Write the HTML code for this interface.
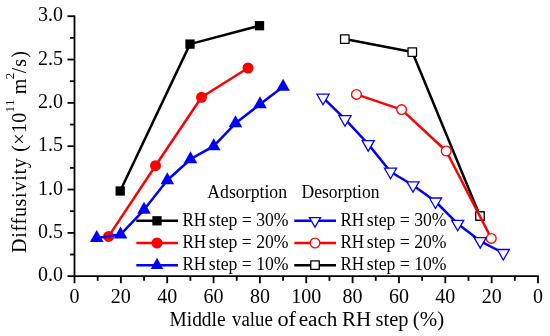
<!DOCTYPE html>
<html><head><meta charset="utf-8"><style>
html,body{margin:0;padding:0;background:#fff;width:550px;height:336px;overflow:hidden}
svg{display:block}
text{font-family:"Liberation Serif","Times New Roman",serif;fill:#000}
</style></head><body>
<svg width="550" height="336" viewBox="0 0 550 336">
<rect width="550" height="336" fill="#fff"/>
<line x1="74.5" y1="15.399999999999999" x2="74.5" y2="283.2" stroke="#000" stroke-width="1.8"/>
<line x1="67.5" y1="276.2" x2="538.8" y2="276.2" stroke="#000" stroke-width="1.8"/>
<text x="63" y="281.20" text-anchor="end" font-size="20">0.0</text>
<line x1="69.9" y1="254.53" x2="74.5" y2="254.53" stroke="#000" stroke-width="1.8"/>
<line x1="67.5" y1="232.87" x2="74.5" y2="232.87" stroke="#000" stroke-width="1.8"/>
<text x="63" y="237.87" text-anchor="end" font-size="20">0.5</text>
<line x1="69.9" y1="211.20" x2="74.5" y2="211.20" stroke="#000" stroke-width="1.8"/>
<line x1="67.5" y1="189.53" x2="74.5" y2="189.53" stroke="#000" stroke-width="1.8"/>
<text x="63" y="194.53" text-anchor="end" font-size="20">1.0</text>
<line x1="69.9" y1="167.87" x2="74.5" y2="167.87" stroke="#000" stroke-width="1.8"/>
<line x1="67.5" y1="146.20" x2="74.5" y2="146.20" stroke="#000" stroke-width="1.8"/>
<text x="63" y="151.20" text-anchor="end" font-size="20">1.5</text>
<line x1="69.9" y1="124.53" x2="74.5" y2="124.53" stroke="#000" stroke-width="1.8"/>
<line x1="67.5" y1="102.87" x2="74.5" y2="102.87" stroke="#000" stroke-width="1.8"/>
<text x="63" y="107.87" text-anchor="end" font-size="20">2.0</text>
<line x1="69.9" y1="81.20" x2="74.5" y2="81.20" stroke="#000" stroke-width="1.8"/>
<line x1="67.5" y1="59.53" x2="74.5" y2="59.53" stroke="#000" stroke-width="1.8"/>
<text x="63" y="64.53" text-anchor="end" font-size="20">2.5</text>
<line x1="69.9" y1="37.87" x2="74.5" y2="37.87" stroke="#000" stroke-width="1.8"/>
<line x1="67.5" y1="16.20" x2="74.5" y2="16.20" stroke="#000" stroke-width="1.8"/>
<text x="63" y="21.20" text-anchor="end" font-size="20">3.0</text>
<text x="74.50" y="303.20" text-anchor="middle" font-size="20">0</text>
<line x1="97.67" y1="276.2" x2="97.67" y2="280.8" stroke="#000" stroke-width="1.8"/>
<line x1="120.85" y1="276.2" x2="120.85" y2="283.2" stroke="#000" stroke-width="1.8"/>
<text x="120.85" y="303.20" text-anchor="middle" font-size="20">20</text>
<line x1="144.03" y1="276.2" x2="144.03" y2="280.8" stroke="#000" stroke-width="1.8"/>
<line x1="167.20" y1="276.2" x2="167.20" y2="283.2" stroke="#000" stroke-width="1.8"/>
<text x="167.20" y="303.20" text-anchor="middle" font-size="20">40</text>
<line x1="190.38" y1="276.2" x2="190.38" y2="280.8" stroke="#000" stroke-width="1.8"/>
<line x1="213.55" y1="276.2" x2="213.55" y2="283.2" stroke="#000" stroke-width="1.8"/>
<text x="213.55" y="303.20" text-anchor="middle" font-size="20">60</text>
<line x1="236.72" y1="276.2" x2="236.72" y2="280.8" stroke="#000" stroke-width="1.8"/>
<line x1="259.90" y1="276.2" x2="259.90" y2="283.2" stroke="#000" stroke-width="1.8"/>
<text x="259.90" y="303.20" text-anchor="middle" font-size="20">80</text>
<line x1="283.07" y1="276.2" x2="283.07" y2="280.8" stroke="#000" stroke-width="1.8"/>
<line x1="306.25" y1="276.2" x2="306.25" y2="283.2" stroke="#000" stroke-width="1.8"/>
<text x="306.25" y="303.20" text-anchor="middle" font-size="20">100</text>
<line x1="329.43" y1="276.2" x2="329.43" y2="280.8" stroke="#000" stroke-width="1.8"/>
<line x1="352.60" y1="276.2" x2="352.60" y2="283.2" stroke="#000" stroke-width="1.8"/>
<text x="352.60" y="303.20" text-anchor="middle" font-size="20">80</text>
<line x1="375.77" y1="276.2" x2="375.77" y2="280.8" stroke="#000" stroke-width="1.8"/>
<line x1="398.95" y1="276.2" x2="398.95" y2="283.2" stroke="#000" stroke-width="1.8"/>
<text x="398.95" y="303.20" text-anchor="middle" font-size="20">60</text>
<line x1="422.12" y1="276.2" x2="422.12" y2="280.8" stroke="#000" stroke-width="1.8"/>
<line x1="445.30" y1="276.2" x2="445.30" y2="283.2" stroke="#000" stroke-width="1.8"/>
<text x="445.30" y="303.20" text-anchor="middle" font-size="20">40</text>
<line x1="468.48" y1="276.2" x2="468.48" y2="280.8" stroke="#000" stroke-width="1.8"/>
<line x1="491.65" y1="276.2" x2="491.65" y2="283.2" stroke="#000" stroke-width="1.8"/>
<text x="491.65" y="303.20" text-anchor="middle" font-size="20">20</text>
<line x1="514.83" y1="276.2" x2="514.83" y2="280.8" stroke="#000" stroke-width="1.8"/>
<line x1="538.00" y1="276.2" x2="538.00" y2="283.2" stroke="#000" stroke-width="1.8"/>
<text x="538.00" y="303.20" text-anchor="middle" font-size="20">0</text>
<text x="169.5" y="325.5" font-size="20" textLength="56.1" lengthAdjust="spacingAndGlyphs">Middle</text>
<text x="232.1" y="325.5" font-size="20" textLength="40.7" lengthAdjust="spacingAndGlyphs">value</text>
<text x="277.4" y="325.5" font-size="20" textLength="18.6" lengthAdjust="spacingAndGlyphs">of</text>
<text x="298.7" y="325.5" font-size="20" textLength="38.7" lengthAdjust="spacingAndGlyphs">each</text>
<text x="342.0" y="325.5" font-size="20" textLength="29.2" lengthAdjust="spacingAndGlyphs">RH</text>
<text x="375.6" y="325.5" font-size="20" textLength="32.9" lengthAdjust="spacingAndGlyphs">step</text>
<text x="412.8" y="325.5" font-size="20" textLength="31.35" lengthAdjust="spacingAndGlyphs">(%)</text>
<text transform="rotate(-90)" x="-253.00" y="25.50" font-size="20" letter-spacing="0.73" style="fill:#000">Diffusivity</text>
<text transform="rotate(-90)" x="-151.80" y="25.50" font-size="20" letter-spacing="0.4" style="fill:#000">(×10</text>
<text transform="rotate(-90)" x="-112.60" y="13.60" font-size="13" letter-spacing="0.5" style="fill:#000">11</text>
<text transform="rotate(-90)" x="-94.30" y="25.50" font-size="20" letter-spacing="0" style="fill:#000">m</text>
<text transform="rotate(-90)" x="-79.30" y="14.20" font-size="13" letter-spacing="0" style="fill:#000">2</text>
<text transform="rotate(-90)" x="-73.20" y="25.50" font-size="20" letter-spacing="1.0" style="fill:#000">/s)</text>
<polyline points="120.2,191.0 190.0,44.1 259.5,25.7" fill="none" stroke="#000000" stroke-width="2.5" stroke-linejoin="round" stroke-linecap="butt"/>
<rect x="115.55" y="186.35" width="9.3" height="9.3" fill="#000000"/>
<rect x="185.35" y="39.45" width="9.3" height="9.3" fill="#000000"/>
<rect x="254.85" y="21.05" width="9.3" height="9.3" fill="#000000"/>
<polyline points="108.6,236.4 155.5,165.7 201.5,97.3 248.0,68.0" fill="none" stroke="#ff0000" stroke-width="2.5" stroke-linejoin="round" stroke-linecap="butt"/>
<circle cx="108.60" cy="236.40" r="5.5" fill="#ff0000"/>
<circle cx="155.50" cy="165.70" r="5.5" fill="#ff0000"/>
<circle cx="201.50" cy="97.30" r="5.5" fill="#ff0000"/>
<circle cx="248.00" cy="68.00" r="5.5" fill="#ff0000"/>
<polyline points="96.7,238.0 120.5,234.6 144.0,209.8 167.3,180.2 190.5,159.2 213.7,146.2 235.5,123.3 260.0,104.3 283.1,86.8" fill="none" stroke="#0000ff" stroke-width="2.5" stroke-linejoin="round" stroke-linecap="butt"/>
<polygon points="89.90,242.00 103.50,242.00 96.70,230.00" fill="#0000ff"/>
<polygon points="113.70,238.60 127.30,238.60 120.50,226.60" fill="#0000ff"/>
<polygon points="137.20,213.80 150.80,213.80 144.00,201.80" fill="#0000ff"/>
<polygon points="160.50,184.20 174.10,184.20 167.30,172.20" fill="#0000ff"/>
<polygon points="183.70,163.20 197.30,163.20 190.50,151.20" fill="#0000ff"/>
<polygon points="206.90,150.20 220.50,150.20 213.70,138.20" fill="#0000ff"/>
<polygon points="228.70,127.30 242.30,127.30 235.50,115.30" fill="#0000ff"/>
<polygon points="253.20,108.30 266.80,108.30 260.00,96.30" fill="#0000ff"/>
<polygon points="276.30,90.80 289.90,90.80 283.10,78.80" fill="#0000ff"/>
<polyline points="344.8,39.1 412.3,52.1 480.0,216.0" fill="none" stroke="#000000" stroke-width="2.5" stroke-linejoin="round" stroke-linecap="butt"/>
<rect x="340.55" y="34.85" width="8.5" height="8.5" fill="#fff" stroke="#000000" stroke-width="1.3" stroke-linejoin="round"/>
<rect x="408.05" y="47.85" width="8.5" height="8.5" fill="#fff" stroke="#000000" stroke-width="1.3" stroke-linejoin="round"/>
<rect x="475.75" y="211.75" width="8.5" height="8.5" fill="#fff" stroke="#000000" stroke-width="1.3" stroke-linejoin="round"/>
<polyline points="356.4,94.4 401.6,109.6 446.2,151.0 491.3,238.4" fill="none" stroke="#ff0000" stroke-width="2.5" stroke-linejoin="round" stroke-linecap="butt"/>
<circle cx="356.40" cy="94.40" r="4.85" fill="#fff" stroke="#ff0000" stroke-width="1.3"/>
<circle cx="401.60" cy="109.60" r="4.85" fill="#fff" stroke="#ff0000" stroke-width="1.3"/>
<circle cx="446.20" cy="151.00" r="4.85" fill="#fff" stroke="#ff0000" stroke-width="1.3"/>
<circle cx="491.30" cy="238.40" r="4.85" fill="#fff" stroke="#ff0000" stroke-width="1.3"/>
<polyline points="323.0,97.7 345.0,119.2 368.2,144.1 390.5,171.7 413.0,185.3 435.5,201.5 457.7,223.8 480.2,241.1 503.3,253.0" fill="none" stroke="#0000ff" stroke-width="2.5" stroke-linejoin="round" stroke-linecap="butt"/>
<polygon points="316.95,94.20 329.05,94.20 323.00,104.70" fill="#fff" stroke="#0000ff" stroke-width="1.3" stroke-linejoin="miter"/>
<polygon points="338.95,115.70 351.05,115.70 345.00,126.20" fill="#fff" stroke="#0000ff" stroke-width="1.3" stroke-linejoin="miter"/>
<polygon points="362.15,140.60 374.25,140.60 368.20,151.10" fill="#fff" stroke="#0000ff" stroke-width="1.3" stroke-linejoin="miter"/>
<polygon points="384.45,168.20 396.55,168.20 390.50,178.70" fill="#fff" stroke="#0000ff" stroke-width="1.3" stroke-linejoin="miter"/>
<polygon points="406.95,181.80 419.05,181.80 413.00,192.30" fill="#fff" stroke="#0000ff" stroke-width="1.3" stroke-linejoin="miter"/>
<polygon points="429.45,198.00 441.55,198.00 435.50,208.50" fill="#fff" stroke="#0000ff" stroke-width="1.3" stroke-linejoin="miter"/>
<polygon points="451.65,220.30 463.75,220.30 457.70,230.80" fill="#fff" stroke="#0000ff" stroke-width="1.3" stroke-linejoin="miter"/>
<polygon points="474.15,237.60 486.25,237.60 480.20,248.10" fill="#fff" stroke="#0000ff" stroke-width="1.3" stroke-linejoin="miter"/>
<polygon points="497.25,249.50 509.35,249.50 503.30,260.00" fill="#fff" stroke="#0000ff" stroke-width="1.3" stroke-linejoin="miter"/>
<text x="207.3" y="197.8" font-size="18.5" textLength="79.8" lengthAdjust="spacingAndGlyphs">Adsorption</text>
<text x="301.5" y="197.6" font-size="18.5" textLength="78" lengthAdjust="spacingAndGlyphs">Desorption</text>
<line x1="136.3" y1="220.8" x2="178.0" y2="220.8" stroke="#000000" stroke-width="2.5"/>
<rect x="152.35" y="216.15" width="9.3" height="9.3" fill="#000000"/>
<text x="182.4" y="225.6" font-size="18.5" textLength="23.7" lengthAdjust="spacingAndGlyphs">RH</text>
<text x="208.85" y="225.6" font-size="18.5" textLength="79.7" lengthAdjust="spacingAndGlyphs">step = 30%</text>
<line x1="136.3" y1="243.0" x2="178.0" y2="243.0" stroke="#ff0000" stroke-width="2.5"/>
<circle cx="157.00" cy="243.00" r="5.5" fill="#ff0000"/>
<text x="182.4" y="247.8" font-size="18.5" textLength="23.7" lengthAdjust="spacingAndGlyphs">RH</text>
<text x="208.85" y="247.8" font-size="18.5" textLength="79.7" lengthAdjust="spacingAndGlyphs">step = 20%</text>
<line x1="136.3" y1="265.2" x2="178.0" y2="265.2" stroke="#0000ff" stroke-width="2.5"/>
<polygon points="150.75,268.93 163.25,268.93 157.00,257.73" fill="#0000ff"/>
<text x="182.4" y="269.6" font-size="18.5" textLength="23.7" lengthAdjust="spacingAndGlyphs">RH</text>
<text x="208.85" y="269.6" font-size="18.5" textLength="79.7" lengthAdjust="spacingAndGlyphs">step = 10%</text>
<line x1="294.3" y1="220.8" x2="336.0" y2="220.8" stroke="#0000ff" stroke-width="2.5"/>
<polygon points="309.45,217.63 320.55,217.63 315.00,227.13" fill="#fff" stroke="#0000ff" stroke-width="1.3" stroke-linejoin="miter"/>
<text x="340.4" y="225.6" font-size="18.5" textLength="23.7" lengthAdjust="spacingAndGlyphs">RH</text>
<text x="366.85" y="225.6" font-size="18.5" textLength="79.7" lengthAdjust="spacingAndGlyphs">step = 30%</text>
<line x1="294.3" y1="243.0" x2="336.0" y2="243.0" stroke="#ff0000" stroke-width="2.5"/>
<circle cx="315.00" cy="243.00" r="4.85" fill="#fff" stroke="#ff0000" stroke-width="1.3"/>
<text x="340.4" y="247.8" font-size="18.5" textLength="23.7" lengthAdjust="spacingAndGlyphs">RH</text>
<text x="366.85" y="247.8" font-size="18.5" textLength="79.7" lengthAdjust="spacingAndGlyphs">step = 20%</text>
<line x1="294.3" y1="265.2" x2="336.0" y2="265.2" stroke="#000000" stroke-width="2.5"/>
<rect x="310.75" y="260.95" width="8.5" height="8.5" fill="#fff" stroke="#000000" stroke-width="1.3" stroke-linejoin="round"/>
<text x="340.4" y="269.6" font-size="18.5" textLength="23.7" lengthAdjust="spacingAndGlyphs">RH</text>
<text x="366.85" y="269.6" font-size="18.5" textLength="79.7" lengthAdjust="spacingAndGlyphs">step = 10%</text>
</svg>
</body></html>
